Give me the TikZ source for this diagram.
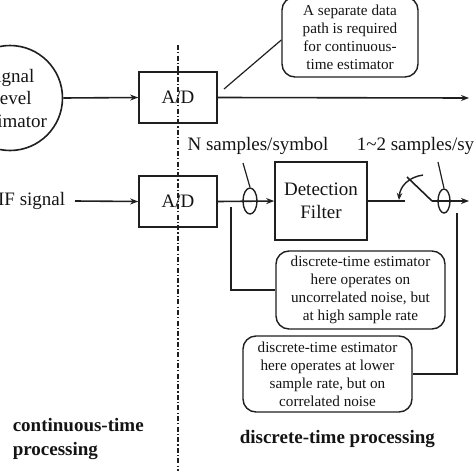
\documentclass[tikz,border=0pt]{standalone}
\usepackage{fontspec}
\setmainfont{Liberation Serif}
\usetikzlibrary{arrows.meta,shapes.geometric}
\begin{document}
\begin{tikzpicture}[x=1pt,y=-1pt, line width=1.6pt, color=black!88,
 every node/.style={inner sep=0pt, text=black!92},
 box/.style={draw, minimum width=78pt, minimum height=51pt, font=\fontsize{19}{22.5}\selectfont, align=center},
 lbl/.style={font=\fontsize{19}{22.5}\selectfont},
 note/.style={draw, line width=1.4pt, rounded corners=13pt, align=center, font=\fontsize{15.2}{18}\selectfont},
 ell/.style={draw, ellipse, line width=1.4pt},
 arr/.style={-{Stealth[length=8pt,width=6pt]}},
 thinl/.style={line width=1.2pt},
 boldlbl/.style={font=\bfseries\fontsize{19}{23.5}\selectfont, align=left},
 dd/.style={line width=1.3pt, dash pattern=on 5pt off 2.2pt on 1.2pt off 2.2pt}
]
\useasboundingbox (0,0) rectangle (474,474);

% circle estimator
\node[draw, circle, minimum size=105pt, align=center, lbl] (est) at (10,98) {Signal\\Level\\Estimator};

% A/D boxes
\node[box] (ad1) at (178,97.5) {A/D};
\node[box] (ad2) at (178,201.5) {A/D};

% top path
\coordinate (topend) at (469,98);
\draw[arr] (est.east) -- (ad1.west);
\draw[arr] (ad1.east) -- (topend);

% top callout
\node[note, minimum width=136pt, minimum height=80pt] (c0) at (350,37) {A separate data\\path is required\\for continuous-\\time estimator};
\coordinate (c0tip) at (224,89);
\draw[thinl] ([yshift=-3pt]c0.west) -- (c0tip);

% IF signal
\node[lbl, anchor=east] (if) at (66,201) {IF signal};
\draw[arr] ([xshift=9pt]if.east) -- (ad2.west);

% detection filter
\node[box, minimum width=92pt, minimum height=78pt] (filt) at (321,201) {Detection\\Filter};
\draw[arr] (ad2.east) -- (filt.west);

% ellipse 1 and label
\node[ell, minimum width=14pt, minimum height=26pt] (e1) at (250,201) {};
\node[lbl] (ns) at (258,146) {N samples/symbol};
\coordinate (p1) at (243,163);
\draw[thinl] (p1) -- (e1.north);

% switch
\coordinate (s1) at (405,201);
\coordinate (s2) at (432,201);
\coordinate (blade) at (407,177);
\coordinate (out2) at (469,201);
\coordinate (ca) at (423,175);
\coordinate (cb) at (399,200);
\draw (filt.east) -- (s1);
\draw (s2) -- (blade);
\draw[arr] (s2) -- (out2);
\draw[-{Stealth[length=7pt,width=5.5pt]}, line width=1.4pt] (ca) .. controls (409,177) and (400,186) .. (cb);

% ellipse 2 and label
\node[ell, minimum width=12pt, minimum height=24pt] (e2) at (444,201) {};
\node[lbl, anchor=west] (ts) at (356,146) {1\textasciitilde2 samples/symbol};
\coordinate (p2) at (438,162);
\draw[thinl] (p2) -- (e2.north);

% callouts lower
\node[note, minimum width=169pt, minimum height=78pt] (n1) at (360.5,290) {discrete-time estimator\\here operates on\\uncorrelated noise, but\\at high sample rate};
\node[note, minimum width=169pt, minimum height=76pt] (n2) at (327.5,374) {discrete-time estimator\\here operates at lower\\sample rate, but on\\correlated noise};
\coordinate (t1) at (231,207);
\coordinate (t2) at (457,213);
\draw[thinl] (t1) |- (n1.west);
\draw[thinl] (n2.east) -| (t2);

% dash-dot boundary
\coordinate (dtop) at (178,45);
\coordinate (dbot) at (178,471);
\draw[dd] (dtop) -- (dbot);

% region labels
\node[boldlbl, anchor=west] (ct) at (12,439) {continuous-time\\processing};
\node[boldlbl, anchor=west] (dt) at (239,439) {discrete-time processing};
\end{tikzpicture}
\end{document}
